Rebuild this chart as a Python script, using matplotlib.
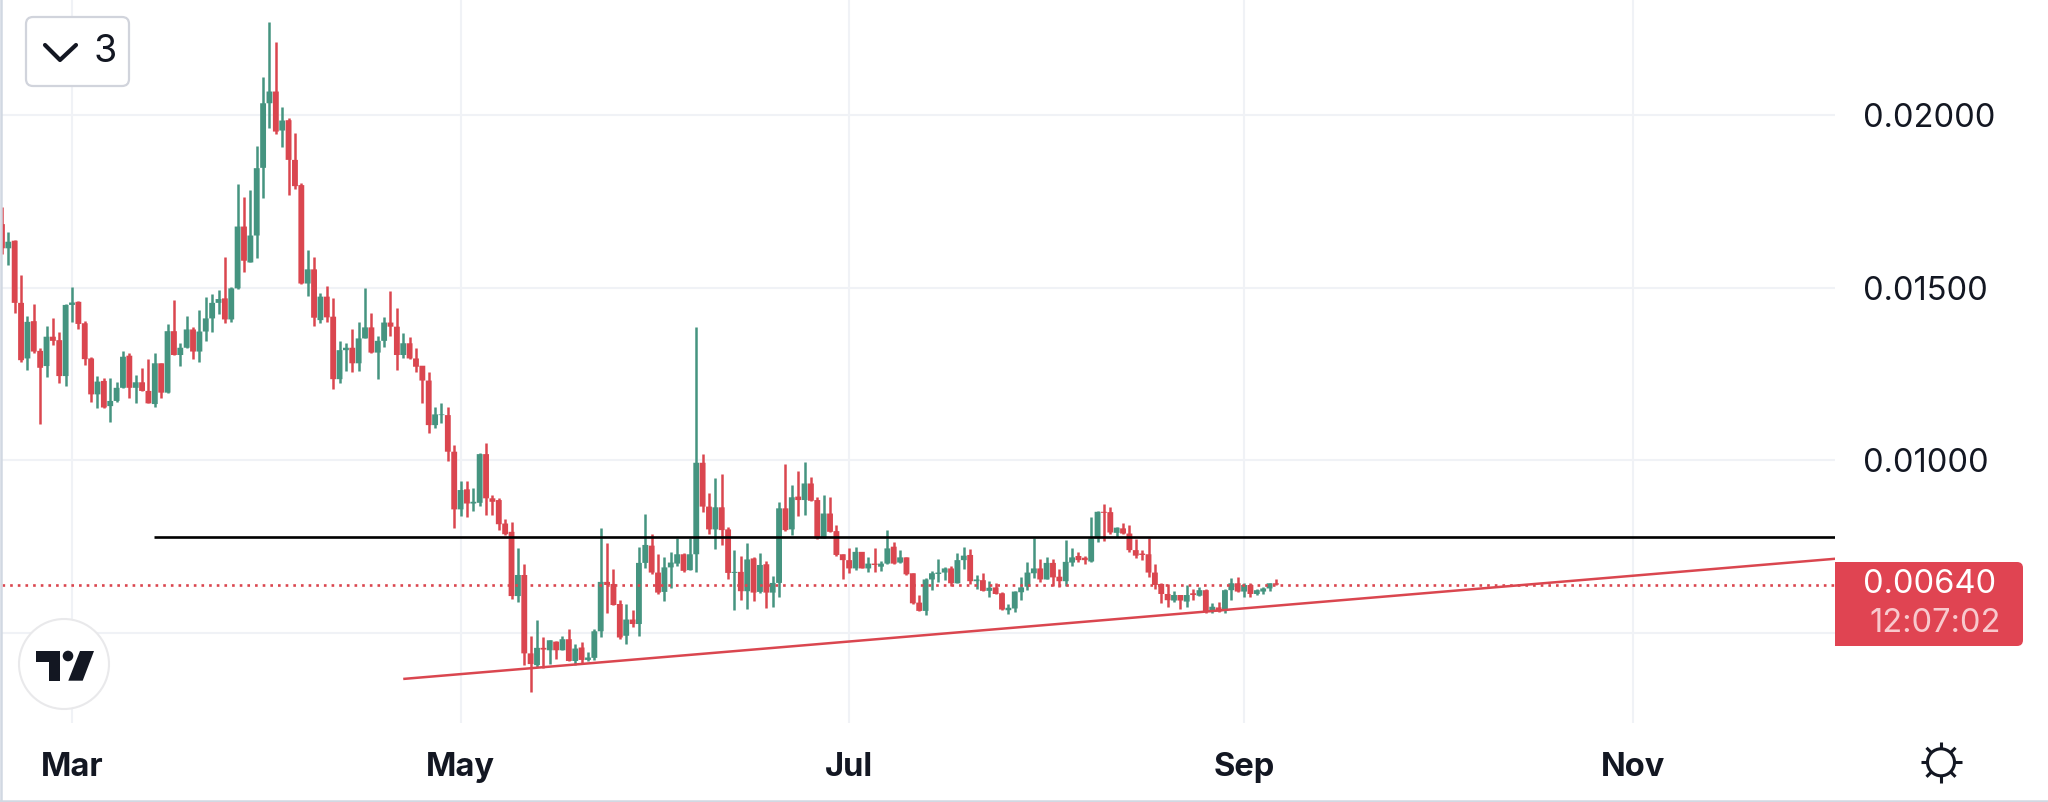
import numpy as np
import matplotlib
matplotlib.use("Agg")
import matplotlib.pyplot as plt
import matplotlib.patches as patches

# daily candles, day 0 is 1 March. Prices in units of 0.00001
days = np.arange(-11, 190)
opens = [
    1684, 1614, 1636, 1456, 1295, 1403, 1317, 1273, 1358, 1348,
    1244, 1450, 1459, 1397, 1295, 1191, 1230, 1157, 1172, 1210,
    1303, 1210, 1226, 1201, 1163, 1281, 1196, 1374, 1305, 1326,
    1379, 1315, 1373, 1411, 1456, 1469, 1408, 1498, 1677, 1573,
    1651, 1847, 2034, 2068, 1955, 1985, 1870, 1797, 1512, 1553,
    1406, 1474, 1416, 1235, 1319, 1326, 1281, 1353, 1385, 1312,
    1346, 1399, 1387, 1305, 1339, 1295, 1274, 1231, 1102, 1131,
    1131, 1025, 858, 916, 875, 877, 1018, 890, 885, 817,
    793, 607, 668, 441, 407, 457, 450, 475, 450, 482,
    419, 458, 422, 428, 505, 648, 642, 584, 492, 539,
    526, 703, 753, 675, 619, 690, 701, 728, 682, 728,
    993, 866, 800, 864, 800, 674, 677, 621, 716, 619,
    699, 617, 645, 861, 800, 895, 885, 933, 885, 774,
    846, 795, 728, 711, 687, 735, 687, 701, 692, 701,
    750, 704, 719, 673, 588, 564, 655, 671, 675, 687,
    644, 711, 726, 650, 653, 622, 632, 615, 566, 571,
    618, 634, 673, 687, 655, 703, 663, 650, 704, 723,
    718, 707, 774, 851, 850, 790, 803, 788, 740, 730,
    728, 675, 642, 613, 594, 610, 591, 615, 608, 624,
    562, 574, 564, 624, 644, 620, 639, 613, 620, 629,
    644]
highs = [
    1734, 1662, 1638, 1538, 1419, 1452, 1324, 1390, 1411, 1373,
    1452, 1501, 1461, 1403, 1298, 1244, 1239, 1237, 1228, 1317,
    1310, 1247, 1266, 1292, 1310, 1281, 1395, 1464, 1339, 1418,
    1385, 1435, 1474, 1482, 1493, 1588, 1501, 1799, 1763, 1783,
    1910, 2111, 2268, 2210, 2024, 1990, 1947, 1802, 1609, 1588,
    1486, 1506, 1469, 1346, 1339, 1379, 1401, 1498, 1428, 1361,
    1414, 1490, 1440, 1368, 1356, 1324, 1274, 1257, 1155, 1165,
    1153, 1044, 940, 941, 921, 1020, 1049, 901, 890, 830,
    822, 745, 699, 492, 539, 489, 481, 478, 492, 513,
    467, 473, 444, 513, 803, 762, 684, 597, 584, 568,
    748, 846, 788, 730, 719, 735, 774, 732, 774, 1387,
    1017, 904, 950, 959, 808, 740, 724, 761, 721, 732,
    708, 665, 880, 988, 930, 970, 996, 951, 895, 899,
    893, 814, 730, 745, 748, 735, 719, 745, 709, 798,
    764, 740, 719, 675, 610, 660, 680, 713, 692, 694,
    731, 748, 742, 668, 675, 650, 644, 620, 584, 622,
    661, 706, 774, 713, 721, 713, 685, 769, 745, 735,
    723, 837, 854, 875, 864, 808, 819, 814, 771, 740,
    776, 699, 644, 641, 621, 610, 639, 626, 634, 626,
    586, 589, 626, 660, 661, 646, 644, 627, 632, 646,
    655]
lows = [
    1597, 1566, 1428, 1286, 1262, 1312, 1104, 1240, 1334, 1225,
    1215, 1401, 1380, 1276, 1170, 1152, 1151, 1112, 1168, 1210,
    1181, 1165, 1201, 1165, 1155, 1180, 1196, 1305, 1273, 1326,
    1292, 1284, 1346, 1373, 1424, 1399, 1401, 1495, 1546, 1573,
    1585, 1759, 1961, 1944, 1908, 1768, 1785, 1510, 1476, 1389,
    1399, 1401, 1208, 1225, 1260, 1257, 1260, 1353, 1312, 1235,
    1327, 1360, 1263, 1295, 1292, 1255, 1165, 1080, 1093, 1107,
    998, 803, 839, 835, 854, 867, 841, 843, 798, 784,
    598, 590, 407, 330, 402, 400, 410, 426, 450, 419,
    407, 410, 419, 422, 489, 557, 581, 484, 468, 518,
    492, 687, 671, 613, 592, 629, 695, 677, 682, 677,
    851, 788, 742, 755, 655, 566, 595, 569, 593, 617,
    571, 576, 605, 796, 784, 839, 841, 883, 771, 774,
    793, 723, 656, 673, 682, 687, 677, 677, 679, 701,
    701, 704, 668, 583, 564, 552, 624, 648, 653, 637,
    644, 684, 642, 626, 621, 605, 613, 568, 555, 562,
    597, 624, 660, 648, 655, 637, 634, 637, 694, 706,
    699, 706, 764, 767, 787, 777, 787, 735, 716, 711,
    663, 626, 588, 574, 591, 570, 576, 597, 608, 559,
    559, 562, 559, 597, 620, 605, 605, 610, 613, 621,
    638]
closes = [
    1614, 1633, 1456, 1290, 1401, 1315, 1268, 1358, 1346, 1244,
    1450, 1457, 1395, 1293, 1191, 1228, 1153, 1172, 1210, 1300,
    1210, 1226, 1201, 1165, 1281, 1196, 1374, 1305, 1326, 1379,
    1315, 1373, 1411, 1456, 1467, 1408, 1498, 1677, 1578, 1651,
    1846, 2034, 2068, 1952, 1984, 1870, 1794, 1512, 1553, 1413,
    1474, 1414, 1235, 1319, 1326, 1281, 1353, 1385, 1312, 1346,
    1399, 1387, 1305, 1339, 1295, 1271, 1231, 1102, 1133, 1133,
    1025, 858, 914, 875, 880, 1018, 890, 880, 815, 786,
    607, 668, 441, 410, 457, 452, 479, 450, 482, 419,
    455, 422, 429, 505, 648, 639, 581, 487, 539, 526,
    703, 755, 675, 617, 690, 704, 728, 680, 728, 993,
    866, 800, 864, 798, 674, 677, 621, 713, 617, 697,
    617, 645, 861, 798, 893, 885, 933, 883, 774, 846,
    793, 726, 711, 687, 735, 687, 701, 697, 701, 745,
    701, 719, 670, 586, 564, 655, 673, 675, 687, 644,
    711, 724, 650, 655, 622, 631, 613, 568, 573, 620,
    632, 675, 687, 655, 703, 661, 650, 706, 719, 711,
    711, 774, 851, 848, 791, 805, 788, 740, 724, 726,
    675, 639, 613, 595, 610, 594, 610, 610, 624, 562,
    576, 562, 624, 644, 620, 639, 613, 624, 629, 644,
    640]

price_ticks = [0.005, 0.010, 0.015, 0.020]
price_labels = ["", "0.01000", "0.01500", "0.02000"]
month_ticks = [0, 61, 122, 184, 245]
month_labels = ["Mar", "May", "Jul", "Sep", "Nov"]
resistance = 0.00778
resistance_days = [12.9, 276.77]
support_days = [52, 276.8]
support_prices = [0.00367, 0.00715]
countdown = "12:07:02"

GREEN = "#459480"
RED = "#da464f"
DARK = "#131722"
GRID = "#f0f2f6"
FONT = "Inter"

opens = np.array(opens) * 1e-5
highs = np.array(highs) * 1e-5
lows = np.array(lows) * 1e-5
closes = np.array(closes) * 1e-5
W, H = 2048, 802

fig = plt.figure(figsize=(W / 100, H / 100), dpi=100, facecolor="white")
ax = fig.add_axes([2 / W, (H - 723) / H, 1833 / W, 723 / H])
ax.set_xlim(-10.99, 276.77)
ax.set_ylim(0.002394, 0.02333)
for s in ax.spines.values():
    s.set_visible(False)

ax.set_axisbelow(True)
ax.grid(True, color=GRID, linewidth=1.5)
ax.set_xticks(month_ticks, month_labels)
ax.set_yticks(price_ticks, price_labels)
ax.yaxis.tick_right()
ax.tick_params(axis="y", length=0, pad=20, labelsize=23.5, labelcolor=DARK)
ax.tick_params(axis="x", length=0, pad=21, labelsize=23.5, labelcolor=DARK)
for t in ax.get_yticklabels():
    t.set_family(FONT)
for t in ax.get_xticklabels():
    t.set_family(FONT)
    t.set_fontweight("bold")

colors = [GREEN if c >= o else RED for o, c in zip(opens, closes)]
ax.vlines(days, lows, highs, colors=colors, linewidth=1.8, zorder=3)
ax.bar(days, np.abs(closes - opens), bottom=np.minimum(opens, closes), width=0.92,
       color=colors, linewidth=0, zorder=3, snap=False)

# last price line and the two drawn lines
ax.axhline(closes[-1], color=RED, linewidth=1.9, linestyle=(0, (1, 1.9)), zorder=4)
ax.plot(resistance_days, [resistance, resistance], color="black", linewidth=1.9, zorder=5,
        solid_capstyle="butt")
ax.plot(support_days, support_prices, color=RED, linewidth=1.8, zorder=5,
        solid_capstyle="butt")

# overlay in pixels for the widgets
ov = fig.add_axes([0, 0, 1, 1])
ov.set_xlim(0, W)
ov.set_ylim(H, 0)
ov.axis("off")
ov.patch.set_alpha(0)

ov.plot([1, 1], [0, H], color="#d1d8e2", linewidth=1.8)
ov.plot([0, W], [801, 801], color="#d1d8e2", linewidth=1.8)

# legend toggle button
ov.add_patch(patches.FancyBboxPatch((26, 17), 103, 69, boxstyle="round,pad=0,rounding_size=7",
                                    facecolor="white", edgecolor="#d1d4dc", linewidth=1.6))
ov.plot([45, 60, 76], [45, 60, 45], color=DARK, linewidth=3, solid_joinstyle="round",
        solid_capstyle="round")
ov.text(105, 52.5, "3", family=FONT, fontsize=27, color=DARK, ha="center", va="center")

# logo
ov.add_patch(patches.Circle((64, 664), 45, facecolor="white", edgecolor="#e9e9eb", linewidth=1.5))
ov.add_patch(patches.Polygon([(35.7, 651), (60, 651), (60, 680.7), (49.3, 680.7), (49.3, 661.7),
                              (35.7, 661.7)], facecolor=DARK, linewidth=0))
ov.add_patch(patches.Circle((68, 656), 5.3, facecolor=DARK, linewidth=0))
ov.add_patch(patches.Polygon([(80, 651), (94, 651), (82.7, 680.7), (68.3, 680.7)],
                             facecolor=DARK, linewidth=0))

# last price tag
ov.add_patch(patches.FancyBboxPatch((1835, 562), 188, 84, boxstyle="round,pad=0,rounding_size=6",
                                    facecolor="#e04452", linewidth=0))
ov.add_patch(patches.Rectangle((1835, 562), 20, 84, facecolor="#e04452", linewidth=0))
ov.text(1930, 584.5, "%.5f" % closes[-1], family=FONT, fontsize=23.5, color="white",
        ha="center", va="center")
ov.text(1935, 623, countdown, family=FONT, fontsize=23.5, color="#f8c9cd", ha="center", va="center")

# theme toggle
ov.add_patch(patches.Circle((1941, 762.3), 13.5, facecolor="none", edgecolor=DARK, linewidth=2.2))
for a in np.arange(8) * np.pi / 4:
    ov.plot([1941 + 14 * np.cos(a), 1941 + 20.5 * np.cos(a)],
            [762.3 + 14 * np.sin(a), 762.3 + 20.5 * np.sin(a)],
            color=DARK, linewidth=2.2, solid_capstyle="butt")

fig.savefig("out.png", dpi=100, facecolor="white")
plt.close()
